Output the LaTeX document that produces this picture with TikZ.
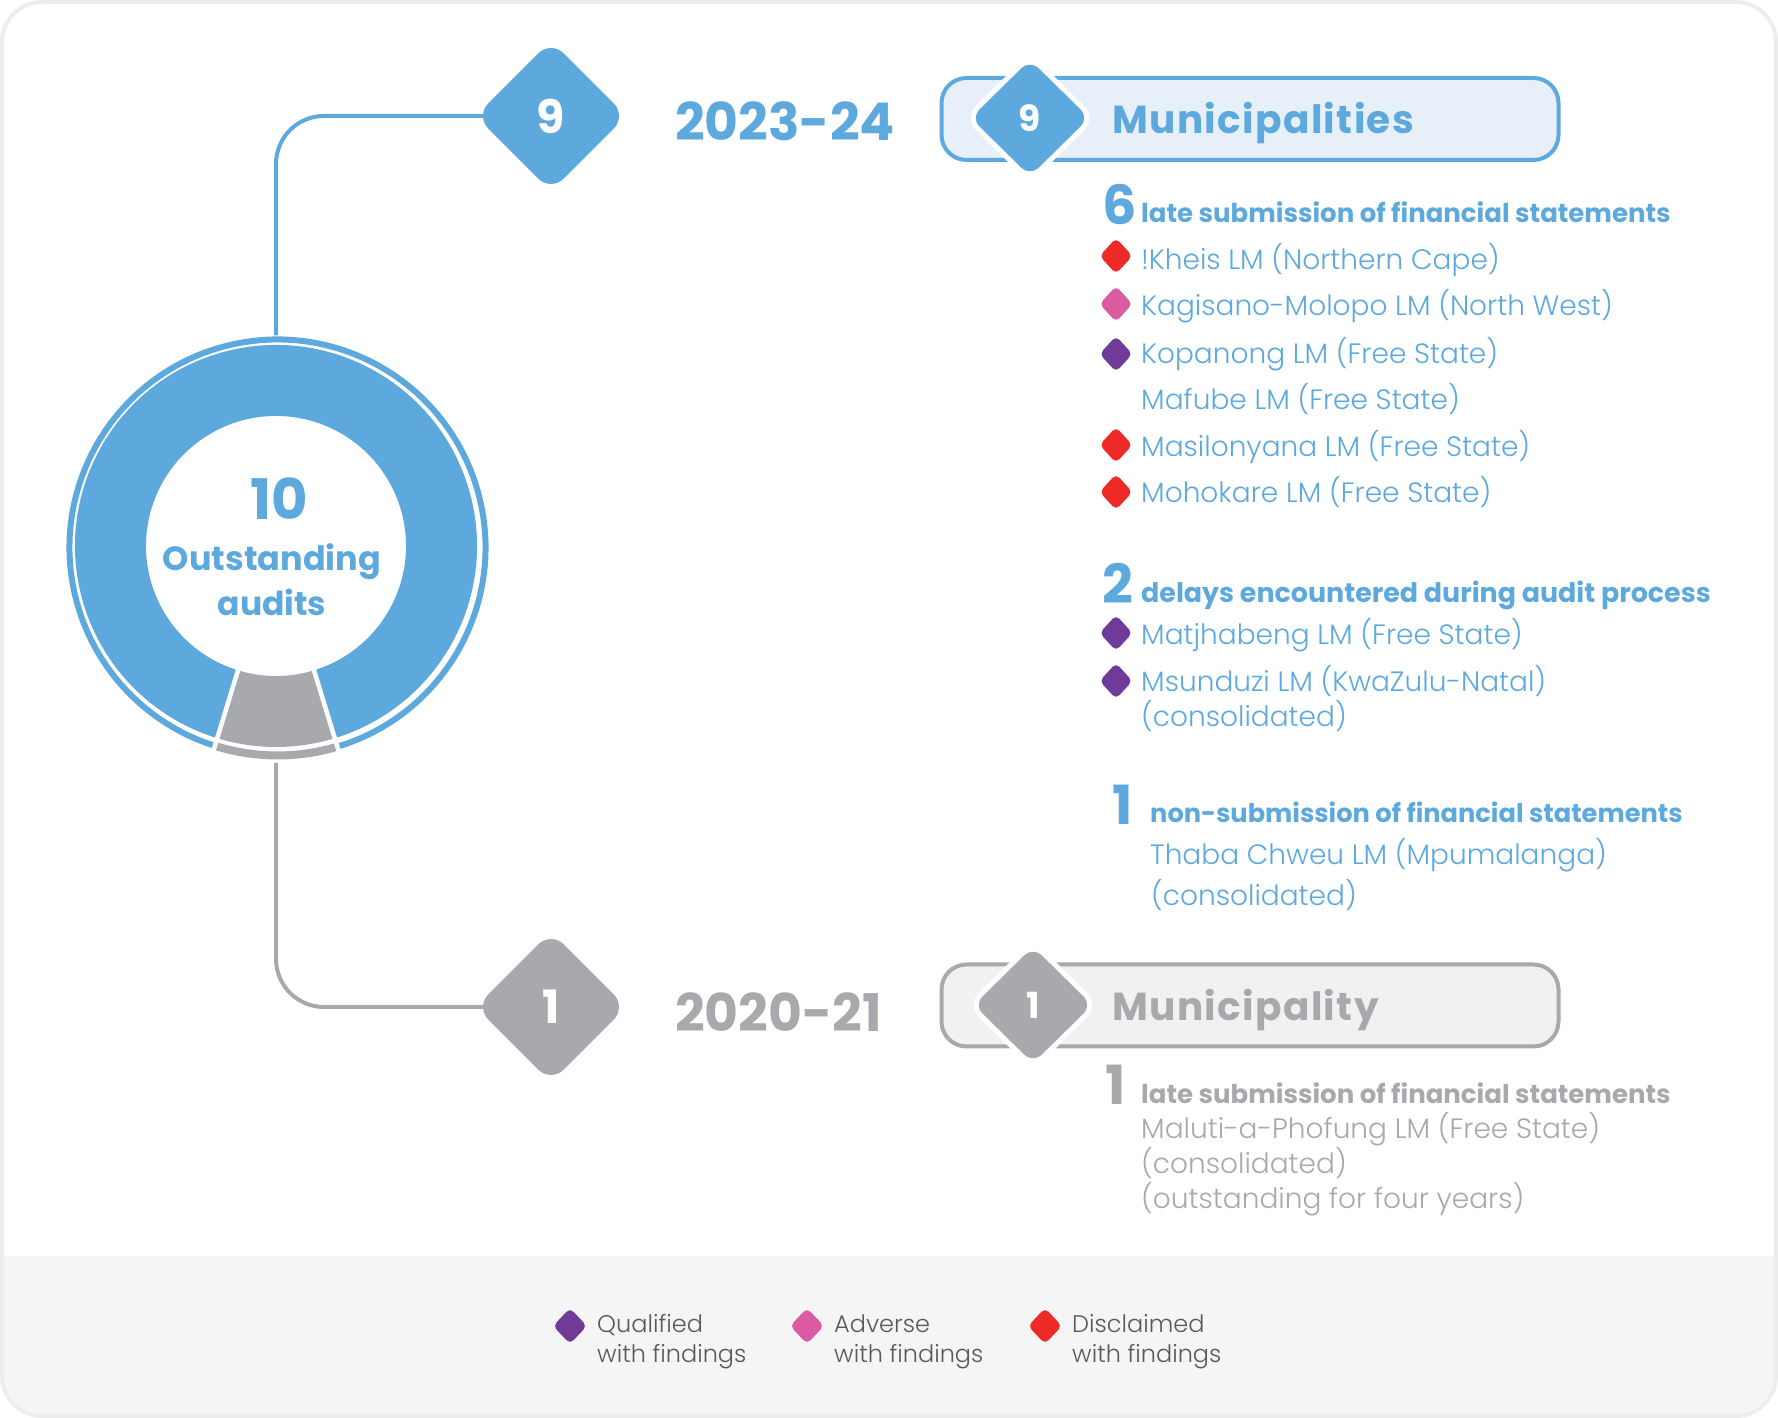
\documentclass[tikz,border=0pt]{standalone}
\usepackage{fontspec}
\usetikzlibrary{shapes.geometric}
\setmainfont{Poppins}
\newfontfamily\lightf{Poppins Light}
\definecolor{cblue}{HTML}{5DA9DE}
\definecolor{cgray}{HTML}{A7A9AC}
\definecolor{cred}{HTML}{EE2A27}
\definecolor{cpink}{HTML}{DC5AA2}
\definecolor{cpurple}{HTML}{6F3A98}
\definecolor{ctext}{HTML}{58595B}
\definecolor{cframe}{HTML}{EDEDED}
\definecolor{cband}{HTML}{F5F5F5}
\definecolor{cpillb}{HTML}{E7F0F9}
\definecolor{cpillg}{HTML}{F1F1F1}
\newcommand{\headfont}[1]{\bfseries\fontsize{#1}{#1}\selectfont}
\tikzset{
  bigdia/.style={diamond,aspect=1,inner sep=0pt,minimum width=151pt,minimum height=151pt,rounded corners=18pt,fill=#1,text=white,font=\bfseries\fontsize{46}{46}\selectfont},
  smalldia/.style={diamond,aspect=1,inner sep=0pt,minimum width=128pt,minimum height=126pt,rounded corners=15pt,fill=#1,draw=white,line width=5pt,text=white,font=\bfseries\fontsize{36}{36}\selectfont},
  pill/.style={rectangle,rounded corners=25pt,minimum width=617pt,minimum height=82pt,draw=#1,line width=4pt},
  dot/.style={diamond,aspect=1,inner sep=0pt,minimum width=33pt,minimum height=36pt,rounded corners=5pt,fill=#1},
  year/.style={anchor=base west,text=#1,font=\bfseries\fontsize{52}{52}\selectfont},
  head/.style={anchor=base west,text=#1,font=\bfseries\fontsize{39}{39}\selectfont\addfontfeature{LetterSpace=3.5}},
  bignum/.style={anchor=base west,text=#1,font=\bfseries\fontsize{54}{54}\selectfont},
  heading/.style={anchor=base west,inner sep=0pt,text=#1},
  item/.style={anchor=base west,inner sep=0pt,text=#1,font=\lightf\fontsize{28}{28}\selectfont},
  legendtxt/.style={anchor=base west,inner sep=0pt,text=ctext,font=\lightf\fontsize{24}{24}\selectfont},
  centertxt/.style={text=cblue,inner sep=0pt,font=\bfseries\fontsize{#1}{#1}\selectfont},
  link/.style={line width=4pt,draw=#1,rounded corners=48pt,shorten >=-10pt},
}
\begin{document}
\begin{tikzpicture}[x=1pt,y=1pt]
    \useasboundingbox (0,0) rectangle (1778,1418);

    % frame and footer band
    \begin{scope}
        \clip[rounded corners=40pt] (2,2) rectangle (1776,1416);
        \fill[cband] (0,0) rectangle (1778,162);
    \end{scope}
    \draw[cframe, line width=4pt, rounded corners=40pt] (2,2) rectangle (1776,1416);

    % donut
    \node[circle, minimum size=423pt, inner sep=0pt] (ring) at (276,871) {};
    \coordinate (ringlow) at (276,655);
    \begin{scope}[shift={(276,872)}]
        \fill[cblue] (-73:201) arc[start angle=-73, end angle=253, radius=201] -- (253:130) arc[start angle=253, end angle=-73, radius=130] -- cycle;
        \fill[cgray] (-107:201) arc[start angle=-107, end angle=-73, radius=201] -- (-73:130) arc[start angle=-73, end angle=-107, radius=130] -- cycle;
    \end{scope}
    \begin{scope}[shift={(277.5,870.5)}]
        \draw[cblue, line width=6pt] (-73:208) arc[start angle=-73, end angle=253, radius=208];
        \draw[cgray, line width=8pt] (-107:208) arc[start angle=-107, end angle=-73, radius=208];
    \end{scope}
    \begin{scope}[shift={(276,872)}]
        \draw[white, line width=4.5pt] (-107:125) -- (-107:218);
        \draw[white, line width=4.5pt] (-73:125) -- (-73:218);
    \end{scope}

    \node[centertxt=56] (ten) at (279,919) {10};
    \node[centertxt=33.5] (outst) at (272,856) {Outstanding};
    \node[centertxt=33] (audits) at (272,816) {audits};

    % years
    \node[bigdia=cblue] (dianine) at (551,1302) {9};
    \node[bigdia=cgray] (diaone) at (551,411) {1};
    \draw[link=cblue] (ring.north) |- (dianine.west);
    \draw[link=cgray] (ringlow) |- (diaone.west);

    \node[year=cblue, inner sep=0pt] (ynine) at (675,1277) {2023-24};
    \node[year=cgray, inner sep=0pt] (yone) at (675,386) {2020-21};

    % headers
    \node[pill=cblue, fill=cpillb] (pillnine) at (1250,1299) {};
    \node[pill=cgray, fill=cpillg] (pillone) at (1250,412.5) {};
    \node[smalldia=cblue] (snine) at (1030,1300) {9};
    \node[smalldia=cgray] (sone) at (1033,413) {1};
    \node[head=cblue, inner sep=0pt] (hnine) at (1112,1284) {Municipalities};
    \node[head=cgray, inner sep=0pt] (hone) at (1112,397) {Municipality};

    % late submission
    \node[bignum=cblue, inner sep=0pt] (nsix) at (1102,1193) {6};
    \node[heading=cblue, font=\headfont{26}] (hlate) at (1141,1195) {late submission of financial statements};
    \node[dot=cred] (da) at (1116,1162) {};
    \node[item=cblue] (la) at (1141,1148) {!Kheis LM (Northern Cape)};
    \node[dot=cpink] (db) at (1116,1114) {};
    \node[item=cblue] (lb) at (1141,1102) {Kagisano-Molopo LM (North West)};
    \node[dot=cpurple] (dc) at (1116,1064) {};
    \node[item=cblue] (lc) at (1141,1054) {Kopanong LM (Free State)};
    \node[item=cblue] (ld) at (1141,1008) {Mafube LM (Free State)};
    \node[dot=cred] (de) at (1116,973) {};
    \node[item=cblue] (le) at (1141,961) {Masilonyana LM (Free State)};
    \node[dot=cred] (df) at (1116,926) {};
    \node[item=cblue] (lf) at (1141,915) {Mohokare LM (Free State)};

    % delays
    \node[bignum=cblue, inner sep=0pt] (ntwo) at (1102,814) {2};
    \node[heading=cblue, font=\headfont{26.9}] (hdelay) at (1141,815) {delays encountered during audit process};
    \node[dot=cpurple] (dg) at (1116,785) {};
    \node[item=cblue] (lg) at (1141,773) {Matjhabeng LM (Free State)};
    \node[dot=cpurple] (dh) at (1116,737) {};
    \node[item=cblue] (lh) at (1141,726) {Msunduzi LM (KwaZulu-Natal)};
    \node[item=cblue] (lhb) at (1141,691) {(consolidated)};

    % non-submission
    \node[bignum=cblue, inner sep=0pt] (nonea) at (1112,593) {1};
    \node[heading=cblue, font=\headfont{25.7}] (hnon) at (1150,595) {non-submission of financial statements};
    \node[item=cblue] (li) at (1150,553) {Thaba Chweu LM (Mpumalanga)};
    \node[item=cblue] (lib) at (1151,512) {(consolidated)};

    % 2020-21 list
    \node[bignum=cgray, inner sep=0pt] (noneb) at (1105,313) {1};
    \node[heading=cgray, font=\headfont{26}] (hlateb) at (1141,314) {late submission of financial statements};
    \node[item=cgray] (lj) at (1141,279) {Maluti-a-Phofung LM (Free State)};
    \node[item=cgray] (ljb) at (1141,244) {(consolidated)};
    \node[item=cgray] (ljc) at (1141,209) {(outstanding for four years)};

    % legend
    \node[dot=cpurple, minimum width=34pt] (kq) at (570,92) {};
    \node[legendtxt] (kqa) at (597,85) {Qualified};
    \node[legendtxt] (kqb) at (597,55) {with findings};
    \node[dot=cpink, minimum width=34pt] (ka) at (807,92) {};
    \node[legendtxt] (kaa) at (834,85) {Adverse};
    \node[legendtxt] (kab) at (834,55) {with findings};
    \node[dot=cred, minimum width=34pt] (kd) at (1045,92) {};
    \node[legendtxt] (kda) at (1072,85) {Disclaimed};
    \node[legendtxt] (kdb) at (1072,55) {with findings};

\end{tikzpicture}
\end{document}
